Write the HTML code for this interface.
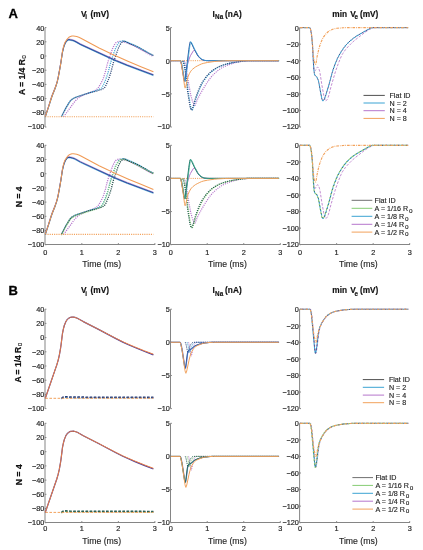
<!DOCTYPE html><html><head><meta charset="utf-8"><style>html,body{margin:0;padding:0;background:#fff;}svg{display:block;will-change:transform;}</style></head><body><svg width="423" height="550" viewBox="0 0 423 550" font-family='"Liberation Sans", sans-serif'><rect width="423" height="550" fill="#fff"/><g fill="none" stroke-linejoin="round"><g stroke="#858585" stroke-width="1" fill="none"><line x1="45.00" y1="27.60" x2="45.00" y2="127.00"/><line x1="45.00" y1="27.60" x2="46.40" y2="27.60"/><line x1="45.00" y1="41.80" x2="46.40" y2="41.80"/><line x1="45.00" y1="56.00" x2="46.40" y2="56.00"/><line x1="45.00" y1="70.20" x2="46.40" y2="70.20"/><line x1="45.00" y1="84.40" x2="46.40" y2="84.40"/><line x1="45.00" y1="98.60" x2="46.40" y2="98.60"/><line x1="45.00" y1="112.80" x2="46.40" y2="112.80"/><line x1="45.00" y1="127.00" x2="46.40" y2="127.00"/></g><g fill="#262626" stroke="#262626" stroke-width="0.18" font-size="7.3" font-family='"Liberation Sans", sans-serif'><text x="44.30" y="30.65" text-anchor="end">40</text><text x="44.30" y="44.76" text-anchor="end">20</text><text x="44.30" y="58.88" text-anchor="end">0</text><text x="44.30" y="72.99" text-anchor="end">−20</text><text x="44.30" y="87.11" text-anchor="end">−40</text><text x="44.30" y="101.22" text-anchor="end">−60</text><text x="44.30" y="115.34" text-anchor="end">−80</text><text x="44.30" y="129.45" text-anchor="end">−100</text></g><g stroke="#858585" stroke-width="1" fill="none"><line x1="170.50" y1="27.60" x2="170.50" y2="127.00"/><line x1="170.50" y1="27.60" x2="171.90" y2="27.60"/><line x1="170.50" y1="60.73" x2="171.90" y2="60.73"/><line x1="170.50" y1="93.87" x2="171.90" y2="93.87"/><line x1="170.50" y1="127.00" x2="171.90" y2="127.00"/></g><g fill="#262626" stroke="#262626" stroke-width="0.18" font-size="7.3" font-family='"Liberation Sans", sans-serif'><text x="169.80" y="30.65" text-anchor="end">5</text><text x="169.80" y="63.58" text-anchor="end">0</text><text x="169.80" y="96.52" text-anchor="end">−5</text><text x="169.80" y="129.45" text-anchor="end">−10</text></g><g stroke="#858585" stroke-width="1" fill="none"><line x1="299.60" y1="27.60" x2="299.60" y2="127.00"/><line x1="299.60" y1="27.60" x2="301.00" y2="27.60"/><line x1="299.60" y1="44.17" x2="301.00" y2="44.17"/><line x1="299.60" y1="60.73" x2="301.00" y2="60.73"/><line x1="299.60" y1="77.30" x2="301.00" y2="77.30"/><line x1="299.60" y1="93.87" x2="301.00" y2="93.87"/><line x1="299.60" y1="110.43" x2="301.00" y2="110.43"/><line x1="299.60" y1="127.00" x2="301.00" y2="127.00"/></g><g fill="#262626" stroke="#262626" stroke-width="0.18" font-size="7.3" font-family='"Liberation Sans", sans-serif'><text x="298.90" y="30.65" text-anchor="end">0</text><text x="298.90" y="47.12" text-anchor="end">−20</text><text x="298.90" y="63.58" text-anchor="end">−40</text><text x="298.90" y="80.05" text-anchor="end">−60</text><text x="298.90" y="96.52" text-anchor="end">−80</text><text x="298.90" y="112.98" text-anchor="end">−100</text><text x="298.90" y="129.45" text-anchor="end">−120</text></g><path d="M63.6 116.7L70.2 107.8L73.8 102.7L76.0 100.2L78.2 98.2L80.1 96.7L82.8 95.4L86.2 93.9L91.2 92.1L95.0 90.5L96.1 89.8L96.9 89.2L97.7 88.3L98.6 87.3L99.8 85.3L101.3 82.7L102.7 79.7L103.6 77.5L105.5 71.3L107.3 64.0L108.0 61.6L112.4 48.9L113.8 45.9L114.8 44.1L115.5 43.1L116.4 42.4L117.4 41.9L118.3 41.5L119.0 41.4L120.0 41.4L121.6 41.6L123.5 42.0L126.3 42.7L128.2 43.3L131.2 44.6L138.0 48.0L148.8 54.2L151.3 55.5L153.4 56.5" stroke="#b676cc" stroke-width="1.30" stroke-dasharray="1.1 1.1"/><path d="M61.4 116.7L65.7 108.3L69.1 102.6L70.4 100.8L72.4 99.1L74.3 97.9L77.0 96.8L84.9 94.2L94.2 91.3L98.4 89.8L100.5 88.8L101.3 88.2L101.8 87.6L102.7 86.3L103.7 84.3L105.8 79.4L106.8 76.5L108.5 71.1L110.2 64.2L110.9 61.7L115.3 48.9L116.7 45.9L117.9 43.9L118.6 42.9L120.4 41.5L121.0 41.1L121.6 40.9L123.0 41.0L126.6 41.9L129.6 43.0L132.4 44.3L138.5 47.3L149.1 53.3L153.4 55.5" stroke="#3ba3d3" stroke-width="1.30" stroke-dasharray="1.1 1.1" stroke-dashoffset="1.1"/><path d="M61.4 116.7L65.8 108.2L69.3 102.4L70.5 100.7L71.6 99.7L72.7 98.9L74.3 98.0L76.3 97.1L86.2 93.8L89.9 92.6L96.0 91.2L101.1 89.7L103.2 88.7L104.1 88.2L104.5 87.8L105.4 86.5L106.3 84.6L108.5 79.3L109.5 76.6L111.2 71.3L113.0 64.1L113.7 61.6L118.1 48.8L119.5 45.9L120.6 43.9L121.4 42.9L123.2 41.5L124.1 41.0L124.9 40.9L125.7 41.7L128.1 43.0L130.2 43.9L135.2 45.8L137.9 47.1L141.1 48.8L149.1 53.4L153.4 55.5" stroke="#2c4778" stroke-width="1.30" stroke-dasharray="1.1 1.1"/><path d="M45.3 116.7L153.4 116.7" stroke="#f2a25c" stroke-width="1.10" stroke-dasharray="1.1 1.1"/><path d="M45.3 116.1L48.6 106.0L51.5 96.9L52.4 94.4L55.0 87.9L56.4 83.9L57.3 80.8L58.2 76.8L59.7 68.7L60.9 61.8L62.4 51.9L63.7 46.5L64.6 43.9L65.5 41.9L67.0 39.9L67.6 39.4L68.1 39.1L69.1 39.0L70.7 39.3L72.4 39.6L73.9 40.1L75.9 41.1L80.3 43.6L82.4 44.6L109.6 57.2L116.3 60.2L127.2 64.6L153.4 74.5" stroke="#b676cc" stroke-width="0.70"/><path d="M45.3 117.3L48.6 107.2L51.5 98.1L52.4 95.6L55.0 89.1L56.4 85.1L57.3 82.0L58.2 78.0L59.7 69.9L60.9 63.0L62.4 53.1L63.7 47.7L64.6 45.1L65.5 43.1L67.0 41.1L67.6 40.6L68.1 40.3L69.1 40.2L70.7 40.5L72.4 40.8L73.9 41.3L75.9 42.3L80.3 44.8L82.4 45.8L109.6 58.4L116.3 61.4L127.2 65.8L153.4 75.7" stroke="#3ba3d3" stroke-width="0.70"/><path d="M45.3 116.7L48.6 106.6L51.5 97.5L52.4 95.0L55.0 88.5L56.4 84.5L57.3 81.4L58.2 77.4L59.7 69.3L60.9 62.4L62.4 52.5L63.7 47.1L64.6 44.5L65.5 42.5L67.0 40.5L67.6 40.0L68.1 39.7L69.1 39.6L70.7 39.9L72.4 40.2L73.9 40.7L75.9 41.7L80.3 44.2L82.4 45.2L109.6 57.8L116.3 60.8L127.2 65.2L153.4 75.1" stroke="#2b4f9e" stroke-width="1.05"/><path d="M45.3 116.7L48.6 106.6L51.5 97.5L52.4 95.0L55.0 88.5L56.4 84.5L57.3 81.4L58.4 76.5L60.1 67.3L61.0 61.8L62.5 51.3L63.2 47.9L63.9 45.5L64.4 43.9L65.1 42.3L65.9 41.0L66.6 39.9L67.7 38.5L68.6 37.6L69.3 37.0L70.4 36.5L72.0 36.0L73.5 36.0L76.7 36.5L78.8 37.3L80.9 38.3L99.1 48.0L105.4 51.0L112.1 54.2L120.1 57.8L127.9 61.2L141.5 66.9L153.4 71.7" stroke="#f09a55" stroke-width="1.05"/><path d="M184.2 60.7L184.6 61.4L185.1 62.7L185.8 65.5L189.0 85.7L190.1 91.5L190.9 95.6L192.2 100.0L193.3 103.2L194.1 104.8L194.5 105.3L194.8 105.4L195.1 105.2L195.4 104.7L197.0 100.5L199.4 95.6L201.7 91.4L205.9 84.4L209.4 79.2L210.8 77.4L212.2 75.8L215.6 72.5L217.5 70.9L219.3 69.5L221.1 68.3L222.7 67.3L224.8 66.4L228.1 65.0L230.9 64.0L233.8 63.1L238.9 61.9L245.1 61.0L249.0 60.7L278.8 60.7" stroke="#b676cc" stroke-width="1.20" stroke-dasharray="1.1 1.1"/><path d="M183.2 60.7L183.7 61.8L184.4 63.7L185.2 67.8L186.3 74.5L188.3 91.9L189.8 101.6L190.5 105.8L191.1 108.3L191.6 109.6L191.8 110.0L192.0 110.1L192.4 109.9L192.7 109.3L193.9 106.1L196.1 98.3L198.3 92.2L200.7 86.5L201.9 84.1L203.0 82.1L204.5 79.9L206.3 77.3L208.1 75.2L209.8 73.4L211.3 71.9L212.8 70.7L215.0 69.2L217.1 67.9L219.6 66.6L222.1 65.6L224.3 64.8L227.6 63.8L231.2 63.0L234.9 62.3L243.7 61.0L247.7 60.7L279.2 60.7" stroke="#3ba3d3" stroke-width="1.20" stroke-dasharray="1.1 1.1"/><path d="M182.6 60.7L183.1 61.8L183.8 63.7L184.6 67.8L185.7 74.5L187.7 91.9L189.2 101.6L189.9 105.8L190.5 108.3L191.0 109.6L191.2 110.0L191.4 110.1L191.8 109.9L192.1 109.3L193.3 106.1L195.5 98.3L197.7 92.2L200.1 86.5L201.3 84.1L202.4 82.1L203.9 79.9L205.7 77.3L207.5 75.2L209.2 73.4L210.7 71.9L212.2 70.7L214.4 69.2L216.5 67.9L219.0 66.6L221.5 65.6L223.7 64.8L227.0 63.8L230.6 63.0L234.3 62.3L243.1 61.0L247.1 60.7L278.6 60.7" stroke="#2c4778" stroke-width="1.20" stroke-dasharray="1.1 1.1"/><path d="M170.7 60.7L278.8 60.7" stroke="#f2a25c" stroke-width="1.00" stroke-dasharray="1.1 1.1"/><path d="M170.7 60.7L180.3 60.7L180.5 60.8L181.0 62.2L181.9 66.5L184.0 79.3L184.4 80.8L184.7 81.3L184.8 81.3L184.9 80.9L185.2 79.7L187.3 65.8L187.8 63.3L188.6 60.6L189.5 58.0L190.4 55.8L193.2 51.1L193.7 50.5L194.1 50.3L194.6 50.5L195.3 51.3L196.3 52.7L198.2 56.2L199.8 58.0L200.8 58.8L201.7 59.4L203.5 60.2L204.9 60.5L208.9 60.7L278.8 60.7" stroke="#b676cc" stroke-width="1.00"/><path d="M170.7 60.7L180.3 60.7L180.5 60.8L181.0 62.2L181.9 66.5L184.0 79.3L184.4 80.8L184.7 81.3L184.8 81.3L184.9 80.9L185.3 78.7L188.8 49.7L189.7 43.7L190.0 42.4L190.3 41.8L190.4 41.8L190.7 42.1L191.8 44.0L194.2 49.2L195.9 52.3L197.1 54.6L198.1 56.1L199.6 57.8L201.0 59.0L202.8 59.9L204.4 60.4L206.4 60.6L208.9 60.7L278.8 60.7" stroke="#2b4f9e" stroke-width="1.00"/><path d="M171.2 60.7L180.8 60.7L181.0 60.8L181.5 62.2L182.4 66.5L184.5 79.3L184.9 80.8L185.2 81.3L185.3 81.3L185.4 80.9L185.8 78.7L189.3 49.7L190.2 43.7L190.5 42.4L190.8 41.8L190.9 41.8L191.2 42.1L192.3 44.0L194.7 49.2L196.4 52.3L197.6 54.6L198.6 56.1L200.1 57.8L201.5 59.0L203.3 59.9L204.9 60.4L206.9 60.6L209.4 60.7L279.3 60.7" stroke="#3ba3d3" stroke-width="0.80"/><path d="M170.7 60.7L180.3 60.7L180.5 60.9L181.0 62.4L182.0 67.8L183.6 78.7L184.5 85.7L184.9 87.6L185.1 88.1L185.3 87.9L185.6 87.1L187.4 79.0L187.9 77.0L189.4 73.6L190.8 71.2L191.6 70.2L192.8 69.0L194.1 68.0L195.4 67.0L197.2 66.0L199.8 64.7L201.6 63.9L203.2 63.4L207.3 62.5L214.3 61.5L217.8 61.2L224.6 60.8L229.0 60.7L278.8 60.7" stroke="#f2a25c" stroke-width="1.00"/><path d="M300.1 27.6L309.7 27.6L309.9 27.7L310.2 28.2L310.7 29.9L311.3 33.0L312.0 39.2L312.4 43.8L313.5 64.2L314.0 69.0L314.3 70.5L314.5 70.9L314.7 71.1L315.0 71.0L315.3 70.6L317.1 67.5L317.5 67.0L317.8 67.0L318.1 67.3L318.9 68.9L319.6 71.1L320.1 73.5L321.8 84.5L323.7 95.2L325.0 99.8L325.4 100.6L325.5 100.9L325.7 100.9L326.3 100.6L327.2 99.5L327.7 98.7L328.1 97.5L329.0 94.8L330.9 87.1L335.5 71.4L338.5 63.0L341.0 57.0L341.9 55.0L342.8 53.5L344.2 51.5L345.6 49.5L348.8 45.9L351.1 43.6L352.9 41.9L355.5 39.7L361.0 35.4L365.0 32.3L369.3 29.6L371.7 28.4L372.9 27.9L375.0 27.6L408.2 27.6" stroke="#c48ed3" stroke-width="1.00" stroke-dasharray="2.6 1.5"/><path d="M300.1 27.6L309.7 27.6L310.0 27.8L310.3 28.5L311.3 33.0L312.1 40.2L312.5 45.2L313.7 67.6L314.0 70.7L314.3 73.3L314.6 74.6L314.9 75.1L315.3 75.6L316.3 76.4L317.1 77.5L317.8 79.0L318.4 80.7L319.0 83.5L320.3 90.8L321.7 98.0L321.9 99.0L322.4 100.1L322.6 100.5L322.9 100.7L323.2 100.7L323.5 100.4L324.4 99.0L325.4 96.4L328.9 85.0L331.8 74.0L333.1 69.6L335.1 64.1L337.3 58.8L338.7 56.0L340.1 53.6L341.8 50.8L343.6 48.1L345.1 46.1L346.7 44.3L348.6 42.3L350.6 40.5L353.9 37.9L357.5 35.5L370.2 28.3L371.3 27.9L373.1 27.6L408.2 27.6" stroke="#3ba3d3" stroke-width="1.10" stroke-dasharray="2 2"/><path d="M300.1 27.6L309.7 27.6L310.0 27.8L310.3 28.5L311.3 33.0L312.1 40.2L312.5 45.2L313.7 67.6L314.0 70.7L314.3 73.3L314.6 74.6L314.9 75.1L315.3 75.6L316.3 76.4L317.1 77.5L317.8 79.0L318.4 80.7L319.0 83.5L320.3 90.8L321.7 98.0L321.9 99.0L322.4 100.1L322.6 100.5L322.9 100.7L323.2 100.7L323.5 100.4L324.4 99.0L325.4 96.4L328.9 85.0L331.8 74.0L333.1 69.6L335.1 64.1L337.3 58.8L338.7 56.0L340.1 53.6L341.8 50.8L343.6 48.1L345.1 46.1L346.7 44.3L348.6 42.3L350.6 40.5L353.9 37.9L357.5 35.5L370.2 28.3L371.3 27.9L373.1 27.6L408.2 27.6" stroke="#34558f" stroke-width="1.00" stroke-dasharray="2 2" stroke-dashoffset="2.0"/><path d="M300.1 27.6L309.7 27.6L309.9 27.7L310.1 28.0L310.5 29.1L311.1 32.0L311.6 35.1L312.3 42.2L313.1 53.3L313.9 59.7L314.3 61.7L314.6 63.0L315.3 64.0L315.7 64.3L315.9 64.0L316.1 63.2L317.0 57.1L318.8 49.1L319.4 46.9L320.6 43.4L321.6 40.9L322.5 38.8L323.4 37.2L324.4 35.8L325.7 34.1L327.1 32.7L328.1 31.8L329.3 30.9L331.2 29.9L332.7 29.2L334.5 28.7L337.0 28.3L343.3 27.8L346.7 27.6L408.2 27.6" stroke="#f2a25c" stroke-width="1.15" stroke-dasharray="2.6 1.0 0.8 1.0"/><g stroke="#858585" stroke-width="1" fill="none"><line x1="45.00" y1="145.30" x2="45.00" y2="244.50"/><line x1="45.00" y1="145.30" x2="46.40" y2="145.30"/><line x1="45.00" y1="159.50" x2="46.40" y2="159.50"/><line x1="45.00" y1="173.70" x2="46.40" y2="173.70"/><line x1="45.00" y1="187.90" x2="46.40" y2="187.90"/><line x1="45.00" y1="202.10" x2="46.40" y2="202.10"/><line x1="45.00" y1="216.30" x2="46.40" y2="216.30"/><line x1="45.00" y1="230.50" x2="46.40" y2="230.50"/><line x1="45.00" y1="244.70" x2="46.40" y2="244.70"/><line x1="45.00" y1="244.50" x2="155.19" y2="244.50"/><line x1="81.83" y1="244.50" x2="81.83" y2="243.10"/><line x1="118.36" y1="244.50" x2="118.36" y2="243.10"/><line x1="154.89" y1="244.50" x2="154.89" y2="243.10"/></g><g fill="#262626" stroke="#262626" stroke-width="0.18" font-size="7.3" font-family='"Liberation Sans", sans-serif'><text x="44.30" y="148.35" text-anchor="end">40</text><text x="44.30" y="162.46" text-anchor="end">20</text><text x="44.30" y="176.58" text-anchor="end">0</text><text x="44.30" y="190.69" text-anchor="end">−20</text><text x="44.30" y="204.81" text-anchor="end">−40</text><text x="44.30" y="218.92" text-anchor="end">−60</text><text x="44.30" y="233.04" text-anchor="end">−80</text><text x="44.30" y="247.15" text-anchor="end">−100</text><text x="45.30" y="254.90" text-anchor="middle">0</text><text x="81.83" y="254.90" text-anchor="middle">1</text><text x="118.36" y="254.90" text-anchor="middle">2</text><text x="154.89" y="254.90" text-anchor="middle">3</text></g><g stroke="#858585" stroke-width="1" fill="none"><line x1="170.50" y1="145.30" x2="170.50" y2="244.50"/><line x1="170.50" y1="145.30" x2="171.90" y2="145.30"/><line x1="170.50" y1="178.43" x2="171.90" y2="178.43"/><line x1="170.50" y1="211.57" x2="171.90" y2="211.57"/><line x1="170.50" y1="244.70" x2="171.90" y2="244.70"/><line x1="170.50" y1="244.50" x2="280.59" y2="244.50"/><line x1="207.23" y1="244.50" x2="207.23" y2="243.10"/><line x1="243.76" y1="244.50" x2="243.76" y2="243.10"/><line x1="280.29" y1="244.50" x2="280.29" y2="243.10"/></g><g fill="#262626" stroke="#262626" stroke-width="0.18" font-size="7.3" font-family='"Liberation Sans", sans-serif'><text x="169.80" y="148.35" text-anchor="end">5</text><text x="169.80" y="181.28" text-anchor="end">0</text><text x="169.80" y="214.22" text-anchor="end">−5</text><text x="169.80" y="247.15" text-anchor="end">−10</text><text x="170.70" y="254.90" text-anchor="middle">0</text><text x="207.23" y="254.90" text-anchor="middle">1</text><text x="243.76" y="254.90" text-anchor="middle">2</text><text x="280.29" y="254.90" text-anchor="middle">3</text></g><g stroke="#858585" stroke-width="1" fill="none"><line x1="299.60" y1="145.30" x2="299.60" y2="244.50"/><line x1="299.60" y1="145.30" x2="301.00" y2="145.30"/><line x1="299.60" y1="161.87" x2="301.00" y2="161.87"/><line x1="299.60" y1="178.43" x2="301.00" y2="178.43"/><line x1="299.60" y1="195.00" x2="301.00" y2="195.00"/><line x1="299.60" y1="211.57" x2="301.00" y2="211.57"/><line x1="299.60" y1="228.13" x2="301.00" y2="228.13"/><line x1="299.60" y1="244.70" x2="301.00" y2="244.70"/><line x1="299.60" y1="244.50" x2="409.99" y2="244.50"/><line x1="336.63" y1="244.50" x2="336.63" y2="243.10"/><line x1="373.16" y1="244.50" x2="373.16" y2="243.10"/><line x1="409.69" y1="244.50" x2="409.69" y2="243.10"/></g><g fill="#262626" stroke="#262626" stroke-width="0.18" font-size="7.3" font-family='"Liberation Sans", sans-serif'><text x="298.90" y="148.35" text-anchor="end">0</text><text x="298.90" y="164.82" text-anchor="end">−20</text><text x="298.90" y="181.28" text-anchor="end">−40</text><text x="298.90" y="197.75" text-anchor="end">−60</text><text x="298.90" y="214.22" text-anchor="end">−80</text><text x="298.90" y="230.68" text-anchor="end">−100</text><text x="298.90" y="247.15" text-anchor="end">−120</text><text x="300.10" y="254.90" text-anchor="middle">0</text><text x="336.63" y="254.90" text-anchor="middle">1</text><text x="373.16" y="254.90" text-anchor="middle">2</text><text x="409.69" y="254.90" text-anchor="middle">3</text></g><path d="M63.6 234.4L70.2 225.5L73.8 220.4L76.0 217.9L78.2 215.9L80.1 214.4L82.8 213.1L86.2 211.6L91.2 209.8L95.0 208.2L96.1 207.5L96.9 206.9L97.7 206.0L98.6 205.0L99.8 203.0L101.3 200.4L102.7 197.4L103.6 195.2L105.5 189.0L107.3 181.7L108.0 179.3L112.4 166.6L113.8 163.6L114.8 161.8L115.5 160.8L116.4 160.1L117.4 159.6L118.3 159.2L119.0 159.1L120.0 159.1L121.6 159.3L123.5 159.7L126.3 160.4L128.2 161.0L131.2 162.3L138.0 165.7L148.8 171.9L151.3 173.2L153.4 174.2" stroke="#b676cc" stroke-width="1.30" stroke-dasharray="1.1 1.1"/><path d="M61.4 234.4L65.7 226.0L69.1 220.3L70.4 218.5L72.4 216.8L74.3 215.6L77.0 214.5L84.9 211.9L94.2 209.0L98.4 207.5L100.5 206.5L101.3 205.9L101.8 205.3L102.7 204.0L103.7 202.0L105.8 197.1L106.8 194.2L108.5 188.8L110.2 181.9L110.9 179.4L115.3 166.6L116.7 163.6L117.9 161.6L118.6 160.6L120.4 159.2L121.0 158.8L121.6 158.6L123.0 158.7L126.6 159.6L129.6 160.7L132.4 162.0L138.5 165.0L149.1 171.0L153.4 173.2" stroke="#3ba3d3" stroke-width="1.30" stroke-dasharray="1.1 1.1" stroke-dashoffset="1.1"/><path d="M61.4 235.1L65.7 226.7L69.1 221.0L70.4 219.2L72.4 217.5L74.3 216.3L77.0 215.2L84.9 212.6L94.2 209.7L98.4 208.2L100.5 207.2L101.3 206.6L101.8 206.0L102.7 204.7L103.7 202.7L105.8 197.8L106.8 194.9L108.5 189.5L110.2 182.6L110.9 180.1L115.3 167.3L116.7 164.3L117.9 162.3L118.6 161.3L120.4 159.9L121.0 159.5L121.6 159.3L123.0 159.4L126.6 160.3L129.6 161.4L132.4 162.7L138.5 165.7L149.1 171.7L153.4 173.9" stroke="#86cc74" stroke-width="1.30" stroke-dasharray="1.1 1.1" stroke-dashoffset="0.5"/><path d="M61.4 234.4L65.8 225.9L69.3 220.1L70.5 218.4L71.6 217.4L72.7 216.6L74.3 215.7L76.3 214.8L86.2 211.5L89.9 210.3L96.0 208.9L101.1 207.4L103.2 206.4L104.1 205.9L104.5 205.5L105.4 204.2L106.3 202.3L108.5 197.0L109.5 194.3L111.2 189.0L113.0 181.8L113.7 179.3L118.1 166.5L119.5 163.6L120.6 161.6L121.4 160.6L123.2 159.2L124.1 158.7L124.9 158.6L125.7 159.4L128.1 160.7L130.2 161.6L135.2 163.5L137.9 164.8L141.1 166.5L149.1 171.1L153.4 173.2" stroke="#1d4a45" stroke-width="1.30" stroke-dasharray="1.1 1.1"/><path d="M45.3 234.4L153.4 234.4" stroke="#f2a25c" stroke-width="1.10" stroke-dasharray="1.1 1.1"/><path d="M45.3 233.8L48.6 223.7L51.5 214.6L52.4 212.1L55.0 205.6L56.4 201.6L57.3 198.5L58.2 194.5L59.7 186.4L60.9 179.5L62.4 169.6L63.7 164.2L64.6 161.6L65.5 159.6L67.0 157.6L67.6 157.1L68.1 156.8L69.1 156.7L70.7 157.0L72.4 157.3L73.9 157.8L75.9 158.8L80.3 161.3L82.4 162.3L109.6 174.9L116.3 177.9L127.2 182.3L153.4 192.2" stroke="#b676cc" stroke-width="0.70"/><path d="M45.3 235.0L48.6 224.9L51.5 215.8L52.4 213.3L55.0 206.8L56.4 202.8L57.3 199.7L58.2 195.7L59.7 187.6L60.9 180.7L62.4 170.8L63.7 165.4L64.6 162.8L65.5 160.8L67.0 158.8L67.6 158.3L68.1 158.0L69.1 157.9L70.7 158.2L72.4 158.5L73.9 159.0L75.9 160.0L80.3 162.5L82.4 163.5L109.6 176.1L116.3 179.1L127.2 183.5L153.4 193.4" stroke="#3ba3d3" stroke-width="0.70"/><path d="M45.3 234.4L48.6 224.3L51.5 215.2L52.4 212.7L55.0 206.2L56.4 202.2L57.3 199.1L58.2 195.1L59.7 187.0L60.9 180.1L62.4 170.2L63.7 164.8L64.6 162.2L65.5 160.2L67.0 158.2L67.6 157.7L68.1 157.4L69.1 157.3L70.7 157.6L72.4 157.9L73.9 158.4L75.9 159.4L80.3 161.9L82.4 162.9L109.6 175.5L116.3 178.5L127.2 182.9L153.4 192.8" stroke="#2b4f9e" stroke-width="1.05"/><path d="M45.3 234.4L48.6 224.3L51.5 215.2L52.4 212.7L55.0 206.2L56.4 202.2L57.3 199.1L58.4 194.2L60.1 185.0L61.0 179.5L62.5 169.0L63.2 165.6L63.9 163.2L64.4 161.6L65.1 160.0L65.9 158.7L66.6 157.6L67.7 156.2L68.6 155.3L69.3 154.7L70.4 154.2L72.0 153.7L73.5 153.7L76.7 154.2L78.8 155.0L80.9 156.0L99.1 165.7L105.4 168.7L112.1 171.9L120.1 175.5L127.9 178.9L141.5 184.6L153.4 189.4" stroke="#f09a55" stroke-width="1.05"/><path d="M184.2 178.4L184.6 179.1L185.1 180.4L185.8 183.2L189.0 203.4L190.1 209.2L190.9 213.3L192.2 217.7L193.3 220.9L194.1 222.5L194.5 223.0L194.8 223.1L195.1 222.9L195.4 222.4L197.0 218.2L199.4 213.3L201.7 209.1L205.9 202.1L209.4 196.9L210.8 195.1L212.2 193.5L215.6 190.2L217.5 188.6L219.3 187.2L221.1 186.0L222.7 185.0L224.8 184.1L228.1 182.7L230.9 181.7L233.8 180.8L238.9 179.6L245.1 178.7L249.0 178.4L278.8 178.4" stroke="#b676cc" stroke-width="1.20" stroke-dasharray="1.1 1.1"/><path d="M183.2 178.4L183.7 179.5L184.4 181.4L185.2 185.5L186.3 192.2L188.3 209.6L189.8 219.3L190.5 223.5L191.1 226.0L191.6 227.3L191.8 227.7L192.0 227.8L192.4 227.6L192.7 227.0L193.9 223.8L196.1 216.0L198.3 209.9L200.7 204.2L201.9 201.8L203.0 199.8L204.5 197.6L206.3 195.0L208.1 192.9L209.8 191.1L211.3 189.6L212.8 188.4L215.0 186.9L217.1 185.6L219.6 184.3L222.1 183.3L224.3 182.5L227.6 181.5L231.2 180.7L234.9 180.0L243.7 178.7L247.7 178.4L279.2 178.4" stroke="#86cc74" stroke-width="1.20" stroke-dasharray="1.1 1.1"/><path d="M182.6 178.4L183.1 179.5L183.8 181.4L184.6 185.5L185.7 192.2L187.7 209.6L189.2 219.3L189.9 223.5L190.5 226.0L191.0 227.3L191.2 227.7L191.4 227.8L191.8 227.6L192.1 227.0L193.3 223.8L195.5 216.0L197.7 209.9L200.1 204.2L201.3 201.8L202.4 199.8L203.9 197.6L205.7 195.0L207.5 192.9L209.2 191.1L210.7 189.6L212.2 188.4L214.4 186.9L216.5 185.6L219.0 184.3L221.5 183.3L223.7 182.5L227.0 181.5L230.6 180.7L234.3 180.0L243.1 178.7L247.1 178.4L278.6 178.4" stroke="#1d5a4a" stroke-width="1.20" stroke-dasharray="1.1 1.1"/><path d="M170.7 178.4L278.8 178.4" stroke="#f2a25c" stroke-width="1.00" stroke-dasharray="1.1 1.1"/><path d="M170.7 178.4L180.3 178.4L180.5 178.5L181.0 179.9L181.9 184.2L184.0 197.0L184.4 198.5L184.7 199.0L184.8 199.0L184.9 198.6L185.2 197.4L187.3 183.5L187.8 181.0L188.6 178.3L189.5 175.7L190.4 173.5L193.2 168.8L193.7 168.2L194.1 168.0L194.6 168.2L195.3 169.0L196.3 170.4L198.2 173.9L199.8 175.7L200.8 176.5L201.7 177.1L203.5 177.9L204.9 178.2L208.9 178.4L278.8 178.4" stroke="#b676cc" stroke-width="1.00"/><path d="M170.7 178.4L180.3 178.4L180.5 178.5L181.0 179.9L181.9 184.2L184.0 197.0L184.4 198.5L184.7 199.0L184.8 199.0L184.9 198.6L185.3 196.4L188.8 167.4L189.7 161.4L190.0 160.1L190.3 159.5L190.4 159.5L190.7 159.8L191.8 161.7L194.2 166.9L195.9 170.0L197.1 172.3L198.1 173.8L199.6 175.5L201.0 176.7L202.8 177.6L204.4 178.1L206.4 178.3L208.9 178.4L278.8 178.4" stroke="#1f6f66" stroke-width="1.00"/><path d="M171.2 178.4L180.8 178.4L181.0 178.5L181.5 179.9L182.4 184.2L184.5 197.0L184.9 198.5L185.2 199.0L185.3 199.0L185.4 198.6L185.8 196.4L189.3 167.4L190.2 161.4L190.5 160.1L190.8 159.5L190.9 159.5L191.2 159.8L192.3 161.7L194.7 166.9L196.4 170.0L197.6 172.3L198.6 173.8L200.1 175.5L201.5 176.7L203.3 177.6L204.9 178.1L206.9 178.3L209.4 178.4L279.3 178.4" stroke="#38a88c" stroke-width="0.80"/><path d="M170.7 178.4L180.3 178.4L180.5 178.6L181.0 180.1L182.0 185.5L183.6 196.4L184.5 203.4L184.9 205.3L185.1 205.8L185.3 205.6L185.6 204.8L187.4 196.7L187.9 194.7L189.4 191.3L190.8 188.9L191.6 187.9L192.8 186.7L194.1 185.7L195.4 184.7L197.2 183.7L199.8 182.4L201.6 181.6L203.2 181.1L207.3 180.2L214.3 179.2L217.8 178.9L224.6 178.5L229.0 178.4L278.8 178.4" stroke="#f2a25c" stroke-width="1.00"/><path d="M300.1 145.3L309.7 145.3L309.9 145.4L310.2 145.9L310.7 147.6L311.3 150.7L312.0 156.9L312.4 161.5L313.5 181.9L314.0 186.7L314.3 188.2L314.5 188.6L314.7 188.8L315.0 188.7L315.3 188.3L317.1 185.2L317.5 184.7L317.8 184.7L318.1 185.0L318.9 186.6L319.6 188.8L320.1 191.2L321.8 202.2L323.7 212.9L325.0 217.5L325.4 218.3L325.5 218.6L325.7 218.6L326.3 218.3L327.2 217.2L327.7 216.4L328.1 215.2L329.0 212.5L330.9 204.8L335.5 189.1L338.5 180.7L341.0 174.7L341.9 172.7L342.8 171.2L344.2 169.2L345.6 167.2L348.8 163.6L351.1 161.3L352.9 159.6L355.5 157.4L361.0 153.1L365.0 150.0L369.3 147.3L371.7 146.1L372.9 145.6L375.0 145.3L408.2 145.3" stroke="#c48ed3" stroke-width="1.00" stroke-dasharray="2.6 1.5"/><path d="M300.1 145.3L309.7 145.3L310.0 145.5L310.3 146.2L311.3 150.7L312.1 157.9L312.5 162.9L313.7 185.3L314.0 188.4L314.3 191.0L314.6 192.3L314.9 192.8L315.3 193.3L316.3 194.1L317.1 195.2L317.8 196.7L318.4 198.4L319.0 201.2L320.3 208.5L321.7 215.7L321.9 216.7L322.4 217.8L322.6 218.2L322.9 218.4L323.2 218.4L323.5 218.1L324.4 216.7L325.4 214.1L328.9 202.7L331.8 191.7L333.1 187.3L335.1 181.8L337.3 176.5L338.7 173.7L340.1 171.3L341.8 168.5L343.6 165.8L345.1 163.8L346.7 162.0L348.6 160.0L350.6 158.2L353.9 155.6L357.5 153.2L370.2 146.0L371.3 145.6L373.1 145.3L408.2 145.3" stroke="#3ba3d3" stroke-width="1.10" stroke-dasharray="2 2"/><path d="M299.9 145.3L309.5 145.3L309.8 145.5L310.1 146.2L311.1 150.7L311.9 157.9L312.3 162.9L313.5 185.3L313.8 188.4L314.1 191.0L314.4 192.3L314.7 192.8L315.1 193.3L316.1 194.1L316.9 195.2L317.6 196.7L318.2 198.4L318.8 201.2L320.1 208.5L321.5 215.7L321.7 216.7L322.2 217.8L322.4 218.2L322.7 218.4L323.0 218.4L323.3 218.1L324.2 216.7L325.2 214.1L328.7 202.7L331.6 191.7L332.9 187.3L334.9 181.8L337.1 176.5L338.5 173.7L339.9 171.3L341.6 168.5L343.4 165.8L344.9 163.8L346.5 162.0L348.4 160.0L350.4 158.2L353.7 155.6L357.3 153.2L370.0 146.0L371.1 145.6L372.9 145.3L408.0 145.3" stroke="#86cc74" stroke-width="1.10" stroke-dasharray="2 2" stroke-dashoffset="2.0"/><path d="M300.1 145.3L309.7 145.3L310.0 145.5L310.3 146.2L311.3 150.7L312.1 157.9L312.5 162.9L313.7 185.3L314.0 188.4L314.3 191.0L314.6 192.3L314.9 192.8L315.3 193.3L316.3 194.1L317.1 195.2L317.8 196.7L318.4 198.4L319.0 201.2L320.3 208.5L321.7 215.7L321.9 216.7L322.4 217.8L322.6 218.2L322.9 218.4L323.2 218.4L323.5 218.1L324.4 216.7L325.4 214.1L328.9 202.7L331.8 191.7L333.1 187.3L335.1 181.8L337.3 176.5L338.7 173.7L340.1 171.3L341.8 168.5L343.6 165.8L345.1 163.8L346.7 162.0L348.6 160.0L350.6 158.2L353.9 155.6L357.5 153.2L370.2 146.0L371.3 145.6L373.1 145.3L408.2 145.3" stroke="#2b4a44" stroke-width="0.80" stroke-dasharray="1 3" stroke-dashoffset="0.5"/><path d="M300.1 145.3L309.7 145.3L309.9 145.4L310.1 145.7L310.5 146.8L311.1 149.7L311.6 152.8L312.3 159.9L313.1 171.0L313.9 177.4L314.3 179.4L314.6 180.7L315.3 181.7L315.7 182.0L315.9 181.7L316.1 180.9L317.0 174.8L318.8 166.8L319.4 164.6L320.6 161.1L321.6 158.6L322.5 156.5L323.4 154.9L324.4 153.5L325.7 151.8L327.1 150.4L328.1 149.5L329.3 148.6L331.2 147.6L332.7 146.9L334.5 146.4L337.0 146.0L343.3 145.5L346.7 145.3L408.2 145.3" stroke="#f2a25c" stroke-width="1.15" stroke-dasharray="2.6 1.0 0.8 1.0"/><g stroke="#858585" stroke-width="1" fill="none"><line x1="45.00" y1="309.20" x2="45.00" y2="408.60"/><line x1="45.00" y1="309.20" x2="46.40" y2="309.20"/><line x1="45.00" y1="323.40" x2="46.40" y2="323.40"/><line x1="45.00" y1="337.60" x2="46.40" y2="337.60"/><line x1="45.00" y1="351.80" x2="46.40" y2="351.80"/><line x1="45.00" y1="366.00" x2="46.40" y2="366.00"/><line x1="45.00" y1="380.20" x2="46.40" y2="380.20"/><line x1="45.00" y1="394.40" x2="46.40" y2="394.40"/><line x1="45.00" y1="408.60" x2="46.40" y2="408.60"/></g><g fill="#262626" stroke="#262626" stroke-width="0.18" font-size="7.3" font-family='"Liberation Sans", sans-serif'><text x="44.30" y="312.25" text-anchor="end">40</text><text x="44.30" y="326.36" text-anchor="end">20</text><text x="44.30" y="340.48" text-anchor="end">0</text><text x="44.30" y="354.59" text-anchor="end">−20</text><text x="44.30" y="368.71" text-anchor="end">−40</text><text x="44.30" y="382.82" text-anchor="end">−60</text><text x="44.30" y="396.94" text-anchor="end">−80</text><text x="44.30" y="411.05" text-anchor="end">−100</text></g><g stroke="#858585" stroke-width="1" fill="none"><line x1="170.50" y1="309.20" x2="170.50" y2="408.60"/><line x1="170.50" y1="309.20" x2="171.90" y2="309.20"/><line x1="170.50" y1="342.33" x2="171.90" y2="342.33"/><line x1="170.50" y1="375.47" x2="171.90" y2="375.47"/><line x1="170.50" y1="408.60" x2="171.90" y2="408.60"/></g><g fill="#262626" stroke="#262626" stroke-width="0.18" font-size="7.3" font-family='"Liberation Sans", sans-serif'><text x="169.80" y="312.25" text-anchor="end">5</text><text x="169.80" y="345.18" text-anchor="end">0</text><text x="169.80" y="378.12" text-anchor="end">−5</text><text x="169.80" y="411.05" text-anchor="end">−10</text></g><g stroke="#858585" stroke-width="1" fill="none"><line x1="299.60" y1="309.20" x2="299.60" y2="408.60"/><line x1="299.60" y1="309.20" x2="301.00" y2="309.20"/><line x1="299.60" y1="325.77" x2="301.00" y2="325.77"/><line x1="299.60" y1="342.33" x2="301.00" y2="342.33"/><line x1="299.60" y1="358.90" x2="301.00" y2="358.90"/><line x1="299.60" y1="375.47" x2="301.00" y2="375.47"/><line x1="299.60" y1="392.03" x2="301.00" y2="392.03"/><line x1="299.60" y1="408.60" x2="301.00" y2="408.60"/></g><g fill="#262626" stroke="#262626" stroke-width="0.18" font-size="7.3" font-family='"Liberation Sans", sans-serif'><text x="298.90" y="312.25" text-anchor="end">0</text><text x="298.90" y="328.72" text-anchor="end">−20</text><text x="298.90" y="345.18" text-anchor="end">−40</text><text x="298.90" y="361.65" text-anchor="end">−60</text><text x="298.90" y="378.12" text-anchor="end">−80</text><text x="298.90" y="394.58" text-anchor="end">−100</text><text x="298.90" y="411.05" text-anchor="end">−120</text></g><path d="M61.4 398.6L62.5 398.1L63.4 397.3L63.9 397.1L69.7 397.5L74.3 397.6L153.4 397.8" stroke="#b676cc" stroke-width="1.20" stroke-dasharray="2.6 1.5"/><path d="M61.4 398.8L62.5 398.3L63.4 397.5L63.9 397.3L69.7 397.7L74.3 397.8L153.4 398.0" stroke="#3ba3d3" stroke-width="1.20" stroke-dasharray="2.6 1.5"/><path d="M61.4 398.1L62.5 397.6L63.4 396.8L63.9 396.6L69.7 397.0L74.3 397.1L153.4 397.3" stroke="#243c78" stroke-width="1.50" stroke-dasharray="2.6 1.5"/><path d="M45.3 398.3L153.4 398.3" stroke="#f2a25c" stroke-width="1.00" stroke-dasharray="2.6 1.5"/><path d="M45.3 398.3L56.8 364.9L58.2 360.1L59.3 355.3L60.5 348.6L61.1 344.5L62.5 333.3L63.4 328.9L64.3 325.5L65.5 322.5L66.2 321.0L66.9 320.0L67.4 319.4L68.3 318.6L69.2 318.0L70.0 317.5L70.7 317.3L71.7 317.2L73.5 317.1L75.0 317.4L77.3 318.2L83.3 321.6L98.5 329.4L115.9 338.6L122.8 342.1L128.4 344.7L134.9 347.5L144.7 351.5L153.4 354.9" stroke="#4a3f9a" stroke-width="1.20"/><path d="M45.3 398.3L56.8 364.9L58.2 360.1L59.3 355.3L60.5 348.6L61.1 344.5L62.5 333.3L63.4 328.9L64.3 325.5L65.5 322.5L66.2 321.0L66.9 320.0L67.4 319.4L68.3 318.6L69.2 318.0L70.0 317.5L70.6 317.3L71.6 317.2L73.4 317.1L74.9 317.4L77.2 318.2L78.6 318.9L81.6 320.7L84.3 322.1L98.5 329.3L115.2 338.0L122.5 341.6L128.1 344.1L134.7 346.9L144.6 350.9L153.4 354.2" stroke="#ea7d45" stroke-width="1.00"/><path d="M188.6 342.3L189.1 344.4L189.7 347.0L190.9 355.1L191.0 355.9L191.2 356.2L191.4 355.9L191.6 355.1L193.2 347.8L194.0 345.3L194.5 344.2L194.8 343.7L195.7 342.7L196.5 342.3L278.8 342.3" stroke="#b676cc" stroke-width="1.00" stroke-dasharray="1.1 1.1"/><path d="M187.1 342.3L188.1 345.6L189.4 352.2L189.6 352.8L189.7 352.9L190.1 352.2L191.7 346.5L192.5 344.7L193.0 343.9L193.3 343.4L194.3 342.6L195.0 342.3L278.8 342.3" stroke="#3ba3d3" stroke-width="1.00" stroke-dasharray="1.1 1.1"/><path d="M185.3 342.3L185.9 343.9L186.4 346.0L187.6 352.1L187.7 352.7L187.9 352.9L188.0 352.8L188.3 352.2L189.9 346.4L190.7 344.6L191.2 343.8L191.6 343.4L192.5 342.6L193.2 342.3L278.8 342.3" stroke="#243c78" stroke-width="1.00" stroke-dasharray="1.1 1.1"/><path d="M171.1 342.3L180.4 342.3L180.7 342.5L181.2 344.2L182.3 349.4L184.8 365.6L185.3 367.8L185.6 368.3L185.8 367.8L186.3 365.1L187.7 353.9L188.1 352.2L188.8 350.8L189.1 350.3L189.6 350.0L191.3 349.1L191.9 348.7L194.1 346.8L195.0 346.1L197.3 345.0L199.8 344.1L202.9 343.4L205.8 342.9L209.4 342.5L212.4 342.3L279.2 342.3" stroke="#b676cc" stroke-width="0.80"/><path d="M170.9 342.3L180.2 342.3L180.5 342.5L181.0 344.2L182.1 349.4L184.6 365.6L185.1 367.8L185.4 368.3L185.6 367.8L186.1 365.1L187.5 353.9L187.9 352.2L188.6 350.8L188.9 350.3L189.4 350.0L191.1 349.1L191.7 348.7L193.9 346.8L194.8 346.1L197.1 345.0L199.6 344.1L202.7 343.4L205.6 342.9L209.2 342.5L212.2 342.3L279.0 342.3" stroke="#3ba3d3" stroke-width="0.80"/><path d="M170.7 342.3L180.0 342.3L180.3 342.5L180.8 344.2L181.9 349.4L184.4 365.6L184.9 367.8L185.2 368.3L185.4 367.8L185.9 365.1L187.3 353.9L187.7 352.2L188.4 350.8L188.7 350.3L189.2 350.0L190.9 349.1L191.5 348.7L193.7 346.8L194.6 346.1L196.9 345.0L199.4 344.1L202.5 343.4L205.4 342.9L209.0 342.5L212.0 342.3L278.8 342.3" stroke="#2b4f9e" stroke-width="0.90"/><path d="M170.7 342.3L180.0 342.3L180.2 342.4L180.3 342.7L180.9 344.6L182.2 350.9L185.0 370.6L185.6 372.8L185.8 373.2L185.9 373.3L186.3 372.6L187.0 369.8L189.0 360.3L190.0 356.3L190.9 353.5L192.1 351.1L192.9 349.7L193.7 348.5L194.5 347.6L195.4 346.8L196.6 346.1L197.8 345.4L201.8 343.8L203.6 343.3L207.1 342.7L209.0 342.5L213.4 342.3L278.8 342.3" stroke="#f2a25c" stroke-width="1.00"/><path d="M300.5 309.2L310.5 309.2L310.8 309.6L311.5 312.7L312.0 316.0L315.0 348.7L315.5 352.3L315.7 353.1L315.8 353.4L316.0 353.2L316.3 352.2L317.2 346.6L318.6 334.7L319.2 331.0L319.7 328.8L320.6 326.1L321.6 324.0L323.1 321.3L324.8 318.8L326.2 316.9L327.3 315.8L328.3 315.0L330.2 313.7L332.1 312.7L333.6 312.1L335.2 311.5L340.2 310.5L344.8 309.8L352.3 309.3L355.2 309.2L408.6 309.2" stroke="#c48ed3" stroke-width="1.00" stroke-dasharray="2.6 1.5"/><path d="M300.1 309.2L310.1 309.2L310.4 309.6L311.1 312.7L311.6 316.0L314.6 348.7L315.1 352.3L315.3 353.1L315.4 353.4L315.6 353.2L315.9 352.2L316.8 346.6L318.2 334.7L318.8 331.0L319.3 328.8L320.2 326.1L321.2 324.0L322.7 321.3L324.4 318.8L325.8 316.9L326.9 315.8L327.9 315.0L329.8 313.7L331.7 312.7L333.2 312.1L334.8 311.5L339.8 310.5L344.4 309.8L351.9 309.3L354.8 309.2L408.2 309.2" stroke="#3ba3d3" stroke-width="1.10" stroke-dasharray="2 2"/><path d="M300.1 309.2L310.1 309.2L310.4 309.6L311.1 312.7L311.6 316.0L314.6 348.7L315.1 352.3L315.3 353.1L315.4 353.4L315.6 353.2L315.9 352.2L316.8 346.6L318.2 334.7L318.8 331.0L319.3 328.8L320.2 326.1L321.2 324.0L322.7 321.3L324.4 318.8L325.8 316.9L326.9 315.8L327.9 315.0L329.8 313.7L331.7 312.7L333.2 312.1L334.8 311.5L339.8 310.5L344.4 309.8L351.9 309.3L354.8 309.2L408.2 309.2" stroke="#34558f" stroke-width="1.00" stroke-dasharray="2 2" stroke-dashoffset="2.0"/><path d="M300.1 309.2L310.1 309.2L310.3 309.4L310.7 311.0L311.4 314.4L313.4 331.6L314.1 336.0L315.2 340.5L315.6 341.7L316.0 342.2L316.2 342.1L316.3 341.5L317.2 336.7L318.9 329.9L320.6 325.6L321.4 323.8L322.3 322.1L324.8 318.2L326.0 316.7L327.1 315.6L328.4 314.6L330.2 313.5L331.8 312.6L333.6 311.9L335.0 311.5L337.2 311.0L341.6 310.2L347.1 309.6L352.6 309.2L408.2 309.2" stroke="#f2a25c" stroke-width="1.15" stroke-dasharray="2.6 1.0 0.8 1.0"/><g stroke="#858585" stroke-width="1" fill="none"><line x1="45.00" y1="423.30" x2="45.00" y2="522.50"/><line x1="45.00" y1="423.30" x2="46.40" y2="423.30"/><line x1="45.00" y1="437.50" x2="46.40" y2="437.50"/><line x1="45.00" y1="451.70" x2="46.40" y2="451.70"/><line x1="45.00" y1="465.90" x2="46.40" y2="465.90"/><line x1="45.00" y1="480.10" x2="46.40" y2="480.10"/><line x1="45.00" y1="494.30" x2="46.40" y2="494.30"/><line x1="45.00" y1="508.50" x2="46.40" y2="508.50"/><line x1="45.00" y1="522.70" x2="46.40" y2="522.70"/><line x1="45.00" y1="522.50" x2="155.19" y2="522.50"/><line x1="81.83" y1="522.50" x2="81.83" y2="521.10"/><line x1="118.36" y1="522.50" x2="118.36" y2="521.10"/><line x1="154.89" y1="522.50" x2="154.89" y2="521.10"/></g><g fill="#262626" stroke="#262626" stroke-width="0.18" font-size="7.3" font-family='"Liberation Sans", sans-serif'><text x="44.30" y="426.35" text-anchor="end">40</text><text x="44.30" y="440.46" text-anchor="end">20</text><text x="44.30" y="454.58" text-anchor="end">0</text><text x="44.30" y="468.69" text-anchor="end">−20</text><text x="44.30" y="482.81" text-anchor="end">−40</text><text x="44.30" y="496.92" text-anchor="end">−60</text><text x="44.30" y="511.04" text-anchor="end">−80</text><text x="44.30" y="525.15" text-anchor="end">−100</text><text x="45.30" y="531.10" text-anchor="middle">0</text><text x="81.83" y="531.10" text-anchor="middle">1</text><text x="118.36" y="531.10" text-anchor="middle">2</text><text x="154.89" y="531.10" text-anchor="middle">3</text></g><g stroke="#858585" stroke-width="1" fill="none"><line x1="170.50" y1="423.30" x2="170.50" y2="522.50"/><line x1="170.50" y1="423.30" x2="171.90" y2="423.30"/><line x1="170.50" y1="456.43" x2="171.90" y2="456.43"/><line x1="170.50" y1="489.57" x2="171.90" y2="489.57"/><line x1="170.50" y1="522.70" x2="171.90" y2="522.70"/><line x1="170.50" y1="522.50" x2="280.59" y2="522.50"/><line x1="207.23" y1="522.50" x2="207.23" y2="521.10"/><line x1="243.76" y1="522.50" x2="243.76" y2="521.10"/><line x1="280.29" y1="522.50" x2="280.29" y2="521.10"/></g><g fill="#262626" stroke="#262626" stroke-width="0.18" font-size="7.3" font-family='"Liberation Sans", sans-serif'><text x="169.80" y="426.35" text-anchor="end">5</text><text x="169.80" y="459.28" text-anchor="end">0</text><text x="169.80" y="492.22" text-anchor="end">−5</text><text x="169.80" y="525.15" text-anchor="end">−10</text><text x="170.70" y="531.10" text-anchor="middle">0</text><text x="207.23" y="531.10" text-anchor="middle">1</text><text x="243.76" y="531.10" text-anchor="middle">2</text><text x="280.29" y="531.10" text-anchor="middle">3</text></g><g stroke="#858585" stroke-width="1" fill="none"><line x1="299.60" y1="423.30" x2="299.60" y2="522.50"/><line x1="299.60" y1="423.30" x2="301.00" y2="423.30"/><line x1="299.60" y1="439.87" x2="301.00" y2="439.87"/><line x1="299.60" y1="456.43" x2="301.00" y2="456.43"/><line x1="299.60" y1="473.00" x2="301.00" y2="473.00"/><line x1="299.60" y1="489.57" x2="301.00" y2="489.57"/><line x1="299.60" y1="506.13" x2="301.00" y2="506.13"/><line x1="299.60" y1="522.70" x2="301.00" y2="522.70"/><line x1="299.60" y1="522.50" x2="409.99" y2="522.50"/><line x1="336.63" y1="522.50" x2="336.63" y2="521.10"/><line x1="373.16" y1="522.50" x2="373.16" y2="521.10"/><line x1="409.69" y1="522.50" x2="409.69" y2="521.10"/></g><g fill="#262626" stroke="#262626" stroke-width="0.18" font-size="7.3" font-family='"Liberation Sans", sans-serif'><text x="298.90" y="426.35" text-anchor="end">0</text><text x="298.90" y="442.82" text-anchor="end">−20</text><text x="298.90" y="459.28" text-anchor="end">−40</text><text x="298.90" y="475.75" text-anchor="end">−60</text><text x="298.90" y="492.22" text-anchor="end">−80</text><text x="298.90" y="508.68" text-anchor="end">−100</text><text x="298.90" y="525.15" text-anchor="end">−120</text><text x="300.10" y="531.10" text-anchor="middle">0</text><text x="336.63" y="531.10" text-anchor="middle">1</text><text x="373.16" y="531.10" text-anchor="middle">2</text><text x="409.69" y="531.10" text-anchor="middle">3</text></g><path d="M61.4 512.7L62.5 512.2L63.4 511.4L63.9 511.2L69.7 511.6L74.3 511.7L153.4 511.9" stroke="#b676cc" stroke-width="1.20" stroke-dasharray="2.6 1.5"/><path d="M61.4 512.9L62.5 512.4L63.4 511.6L63.9 511.4L69.7 511.8L74.3 511.9L153.4 512.1" stroke="#86cc74" stroke-width="1.20" stroke-dasharray="2.6 1.5"/><path d="M61.4 512.2L62.5 511.7L63.4 510.9L63.9 510.7L69.7 511.1L74.3 511.2L153.4 511.4" stroke="#1d5a4f" stroke-width="1.50" stroke-dasharray="2.6 1.5"/><path d="M45.3 512.4L153.4 512.4" stroke="#f2a25c" stroke-width="1.00" stroke-dasharray="2.6 1.5"/><path d="M45.3 512.4L56.8 479.0L58.2 474.2L59.3 469.4L60.5 462.7L61.1 458.6L62.5 447.4L63.4 443.0L64.3 439.6L65.5 436.6L66.2 435.1L66.9 434.1L67.4 433.5L68.3 432.7L69.2 432.1L70.0 431.6L70.7 431.4L71.7 431.3L73.5 431.2L75.0 431.5L77.3 432.3L83.3 435.7L98.5 443.5L115.9 452.7L122.8 456.2L128.4 458.8L134.9 461.6L144.7 465.6L153.4 469.0" stroke="#4a3f9a" stroke-width="1.20"/><path d="M45.3 512.4L56.8 479.0L58.2 474.2L59.3 469.4L60.5 462.7L61.1 458.6L62.5 447.4L63.4 443.0L64.3 439.6L65.5 436.6L66.2 435.1L66.9 434.1L67.4 433.5L68.3 432.7L69.2 432.1L70.0 431.6L70.6 431.4L71.6 431.3L73.4 431.2L74.9 431.5L77.2 432.3L78.6 433.0L81.6 434.8L84.3 436.2L98.5 443.4L115.2 452.1L122.5 455.7L128.1 458.2L134.7 461.0L144.6 465.0L153.4 468.3" stroke="#ea7d45" stroke-width="1.00"/><path d="M188.6 456.4L189.1 458.5L189.7 461.1L190.9 469.2L191.0 470.0L191.2 470.3L191.4 470.0L191.6 469.2L193.2 461.9L194.0 459.4L194.5 458.3L194.8 457.8L195.7 456.8L196.5 456.4L278.8 456.4" stroke="#b676cc" stroke-width="1.00" stroke-dasharray="1.1 1.1"/><path d="M187.1 456.4L188.1 459.7L189.4 466.3L189.6 466.9L189.7 467.0L190.1 466.3L191.7 460.6L192.5 458.8L193.0 458.0L193.3 457.5L194.3 456.7L195.0 456.4L278.8 456.4" stroke="#86cc74" stroke-width="1.00" stroke-dasharray="1.1 1.1"/><path d="M185.3 456.4L185.9 458.0L186.4 460.1L187.6 466.2L187.7 466.8L187.9 467.0L188.0 466.9L188.3 466.3L189.9 460.5L190.7 458.7L191.2 457.9L191.6 457.5L192.5 456.7L193.2 456.4L278.8 456.4" stroke="#1d5a4f" stroke-width="1.00" stroke-dasharray="1.1 1.1"/><path d="M171.1 456.4L180.4 456.4L180.7 456.6L181.2 458.3L182.3 463.5L184.8 479.7L185.3 481.9L185.6 482.4L185.8 481.9L186.3 479.2L187.7 468.0L188.1 466.3L188.8 464.9L189.1 464.4L189.6 464.1L191.3 463.2L191.9 462.8L194.1 460.9L195.0 460.2L197.3 459.1L199.8 458.2L202.9 457.5L205.8 457.0L209.4 456.6L212.4 456.4L279.2 456.4" stroke="#b676cc" stroke-width="0.80"/><path d="M170.9 456.4L180.2 456.4L180.5 456.6L181.0 458.3L182.1 463.5L184.6 479.7L185.1 481.9L185.4 482.4L185.6 481.9L186.1 479.2L187.5 468.0L187.9 466.3L188.6 464.9L188.9 464.4L189.4 464.1L191.1 463.2L191.7 462.8L193.9 460.9L194.8 460.2L197.1 459.1L199.6 458.2L202.7 457.5L205.6 457.0L209.2 456.6L212.2 456.4L279.0 456.4" stroke="#2f9c86" stroke-width="0.80"/><path d="M170.7 456.4L180.0 456.4L180.3 456.6L180.8 458.3L181.9 463.5L184.4 479.7L184.9 481.9L185.2 482.4L185.4 481.9L185.9 479.2L187.3 468.0L187.7 466.3L188.4 464.9L188.7 464.4L189.2 464.1L190.9 463.2L191.5 462.8L193.7 460.9L194.6 460.2L196.9 459.1L199.4 458.2L202.5 457.5L205.4 457.0L209.0 456.6L212.0 456.4L278.8 456.4" stroke="#1f5f66" stroke-width="0.90"/><path d="M170.7 456.4L180.0 456.4L180.2 456.5L180.3 456.8L180.9 458.7L182.2 465.0L185.0 484.7L185.6 486.9L185.8 487.3L185.9 487.4L186.3 486.7L187.0 483.9L189.0 474.4L190.0 470.4L190.9 467.6L192.1 465.2L192.9 463.8L193.7 462.6L194.5 461.7L195.4 460.9L196.6 460.2L197.8 459.5L201.8 457.9L203.6 457.4L207.1 456.8L209.0 456.6L213.4 456.4L278.8 456.4" stroke="#f2a25c" stroke-width="1.00"/><path d="M300.5 423.3L310.5 423.3L310.8 423.7L311.5 426.8L312.0 430.1L315.0 462.8L315.5 466.4L315.7 467.2L315.8 467.5L316.0 467.3L316.3 466.3L317.2 460.7L318.6 448.8L319.2 445.1L319.7 442.9L320.6 440.2L321.6 438.1L323.1 435.4L324.8 432.9L326.2 431.0L327.3 429.9L328.3 429.1L330.2 427.8L332.1 426.8L333.6 426.2L335.2 425.6L340.2 424.6L344.8 423.9L352.3 423.4L355.2 423.3L408.6 423.3" stroke="#c48ed3" stroke-width="1.00" stroke-dasharray="2.6 1.5"/><path d="M300.1 423.3L310.1 423.3L310.4 423.7L311.1 426.8L311.6 430.1L314.6 462.8L315.1 466.4L315.3 467.2L315.4 467.5L315.6 467.3L315.9 466.3L316.8 460.7L318.2 448.8L318.8 445.1L319.3 442.9L320.2 440.2L321.2 438.1L322.7 435.4L324.4 432.9L325.8 431.0L326.9 429.9L327.9 429.1L329.8 427.8L331.7 426.8L333.2 426.2L334.8 425.6L339.8 424.6L344.4 423.9L351.9 423.4L354.8 423.3L408.2 423.3" stroke="#3ba3d3" stroke-width="1.10" stroke-dasharray="2 2"/><path d="M299.9 423.3L309.9 423.3L310.2 423.7L310.9 426.8L311.4 430.1L314.4 462.8L314.9 466.4L315.1 467.2L315.2 467.5L315.4 467.3L315.7 466.3L316.6 460.7L318.0 448.8L318.6 445.1L319.1 442.9L320.0 440.2L321.0 438.1L322.5 435.4L324.2 432.9L325.6 431.0L326.7 429.9L327.7 429.1L329.6 427.8L331.5 426.8L333.0 426.2L334.6 425.6L339.6 424.6L344.2 423.9L351.7 423.4L354.6 423.3L408.0 423.3" stroke="#86cc74" stroke-width="1.10" stroke-dasharray="2 2" stroke-dashoffset="2.0"/><path d="M300.1 423.3L310.1 423.3L310.4 423.7L311.1 426.8L311.6 430.1L314.6 462.8L315.1 466.4L315.3 467.2L315.4 467.5L315.6 467.3L315.9 466.3L316.8 460.7L318.2 448.8L318.8 445.1L319.3 442.9L320.2 440.2L321.2 438.1L322.7 435.4L324.4 432.9L325.8 431.0L326.9 429.9L327.9 429.1L329.8 427.8L331.7 426.8L333.2 426.2L334.8 425.6L339.8 424.6L344.4 423.9L351.9 423.4L354.8 423.3L408.2 423.3" stroke="#2b4a44" stroke-width="0.80" stroke-dasharray="1 3" stroke-dashoffset="0.5"/><path d="M300.1 423.3L310.1 423.3L310.3 423.5L310.7 425.1L311.4 428.5L313.4 445.7L314.1 450.1L315.2 454.6L315.6 455.8L316.0 456.3L316.2 456.2L316.3 455.6L317.2 450.8L318.9 444.0L320.6 439.7L321.4 437.9L322.3 436.2L324.8 432.3L326.0 430.8L327.1 429.7L328.4 428.7L330.2 427.6L331.8 426.7L333.6 426.0L335.0 425.6L337.2 425.1L341.6 424.3L347.1 423.7L352.6 423.3L408.2 423.3" stroke="#f2a25c" stroke-width="1.15" stroke-dasharray="2.6 1.0 0.8 1.0"/></g><text x="8.60" y="18.40" font-size="13.00" font-weight="bold" text-anchor="start" fill="#000" stroke="#000" stroke-width="0.30">A</text><text x="81.00" y="16.60" font-size="8.30" font-weight="bold" text-anchor="start" fill="#111" stroke="#111" stroke-width="0.15">V</text><text x="85.20" y="18.70" font-size="6.30" font-weight="bold" text-anchor="start" fill="#111" stroke="#111" stroke-width="0.15">i</text><text x="90.50" y="16.60" font-size="8.30" font-weight="bold" text-anchor="start" fill="#111" stroke="#111" stroke-width="0.15">(mV)</text><text x="212.50" y="16.60" font-size="8.30" font-weight="bold" text-anchor="start" fill="#111" stroke="#111" stroke-width="0.15">I</text><text x="215.10" y="18.70" font-size="6.30" font-weight="bold" text-anchor="start" fill="#111" stroke="#111" stroke-width="0.15">Na</text><text x="225.10" y="16.60" font-size="8.30" font-weight="bold" text-anchor="start" fill="#111" stroke="#111" stroke-width="0.15">(nA)</text><text x="332.30" y="16.60" font-size="8.30" font-weight="bold" text-anchor="start" fill="#111" stroke="#111" stroke-width="0.15">min</text><text x="350.30" y="16.60" font-size="8.30" font-weight="bold" text-anchor="start" fill="#111" stroke="#111" stroke-width="0.15">V</text><text x="354.50" y="18.70" font-size="6.30" font-weight="bold" text-anchor="start" fill="#111" stroke="#111" stroke-width="0.15">e</text><text x="359.90" y="16.60" font-size="8.30" font-weight="bold" text-anchor="start" fill="#111" stroke="#111" stroke-width="0.15">(mV)</text><text x="8.60" y="295.00" font-size="13.00" font-weight="bold" text-anchor="start" fill="#000" stroke="#000" stroke-width="0.30">B</text><text x="81.00" y="293.40" font-size="8.30" font-weight="bold" text-anchor="start" fill="#111" stroke="#111" stroke-width="0.15">V</text><text x="85.20" y="295.50" font-size="6.30" font-weight="bold" text-anchor="start" fill="#111" stroke="#111" stroke-width="0.15">i</text><text x="90.50" y="293.40" font-size="8.30" font-weight="bold" text-anchor="start" fill="#111" stroke="#111" stroke-width="0.15">(mV)</text><text x="212.50" y="293.40" font-size="8.30" font-weight="bold" text-anchor="start" fill="#111" stroke="#111" stroke-width="0.15">I</text><text x="215.10" y="295.50" font-size="6.30" font-weight="bold" text-anchor="start" fill="#111" stroke="#111" stroke-width="0.15">Na</text><text x="225.10" y="293.40" font-size="8.30" font-weight="bold" text-anchor="start" fill="#111" stroke="#111" stroke-width="0.15">(nA)</text><text x="332.30" y="293.40" font-size="8.30" font-weight="bold" text-anchor="start" fill="#111" stroke="#111" stroke-width="0.15">min</text><text x="350.30" y="293.40" font-size="8.30" font-weight="bold" text-anchor="start" fill="#111" stroke="#111" stroke-width="0.15">V</text><text x="354.50" y="295.50" font-size="6.30" font-weight="bold" text-anchor="start" fill="#111" stroke="#111" stroke-width="0.15">e</text><text x="359.90" y="293.40" font-size="8.30" font-weight="bold" text-anchor="start" fill="#111" stroke="#111" stroke-width="0.15">(mV)</text><text x="0.00" y="0.00" font-size="8.50" font-weight="bold" text-anchor="start" fill="#111" stroke="#111" stroke-width="0.15" transform="translate(24.50 95.00) rotate(-90)">A = 1/4 R<tspan font-size="6.4" font-weight="normal" fill="#333" dy="1.0" dx="0.5">o</tspan></text><text x="0.00" y="0.00" font-size="8.70" font-weight="bold" text-anchor="start" fill="#111" stroke="#111" stroke-width="0.15" transform="translate(21.50 207.30) rotate(-90)">N = 4</text><text x="0.00" y="0.00" font-size="8.50" font-weight="bold" text-anchor="start" fill="#111" stroke="#111" stroke-width="0.15" transform="translate(20.80 382.60) rotate(-90)">A = 1/4 R<tspan font-size="6.4" font-weight="normal" fill="#333" dy="1.0" dx="0.5">o</tspan></text><text x="0.00" y="0.00" font-size="8.70" font-weight="bold" text-anchor="start" fill="#111" stroke="#111" stroke-width="0.15" transform="translate(21.70 485.20) rotate(-90)">N = 4</text><text x="101.70" y="266.80" font-size="8.70" font-weight="normal" text-anchor="middle" fill="#262626" stroke="#262626" stroke-width="0.15">Time (ms)</text><text x="227.40" y="266.80" font-size="8.70" font-weight="normal" text-anchor="middle" fill="#262626" stroke="#262626" stroke-width="0.15">Time (ms)</text><text x="358.30" y="266.80" font-size="8.70" font-weight="normal" text-anchor="middle" fill="#262626" stroke="#262626" stroke-width="0.15">Time (ms)</text><text x="101.70" y="543.90" font-size="8.70" font-weight="normal" text-anchor="middle" fill="#262626" stroke="#262626" stroke-width="0.15">Time (ms)</text><text x="227.40" y="543.90" font-size="8.70" font-weight="normal" text-anchor="middle" fill="#262626" stroke="#262626" stroke-width="0.15">Time (ms)</text><text x="358.30" y="543.90" font-size="8.70" font-weight="normal" text-anchor="middle" fill="#262626" stroke="#262626" stroke-width="0.15">Time (ms)</text><line x1="363.50" y1="95.40" x2="384.80" y2="95.40" stroke="#505050" stroke-width="1.0"/><text x="389.50" y="98.00" font-size="7.15" font-weight="normal" text-anchor="start" fill="#262626" stroke="#262626" stroke-width="0.15">Flat ID</text><line x1="363.50" y1="103.00" x2="384.80" y2="103.00" stroke="#3ba3d3" stroke-width="1.0"/><text x="389.50" y="105.60" font-size="7.15" font-weight="normal" text-anchor="start" fill="#262626" stroke="#262626" stroke-width="0.15">N = 2</text><line x1="363.50" y1="110.70" x2="384.80" y2="110.70" stroke="#b676cc" stroke-width="1.0"/><text x="389.50" y="113.30" font-size="7.15" font-weight="normal" text-anchor="start" fill="#262626" stroke="#262626" stroke-width="0.15">N = 4</text><line x1="363.50" y1="118.40" x2="384.80" y2="118.40" stroke="#f2a25c" stroke-width="1.0"/><text x="389.50" y="121.00" font-size="7.15" font-weight="normal" text-anchor="start" fill="#262626" stroke="#262626" stroke-width="0.15">N = 8</text><line x1="351.60" y1="200.30" x2="372.30" y2="200.30" stroke="#707070" stroke-width="1.0"/><text x="374.60" y="202.90" font-size="7.15" font-weight="normal" text-anchor="start" fill="#262626" stroke="#262626" stroke-width="0.15">Flat ID</text><line x1="351.60" y1="208.30" x2="372.30" y2="208.30" stroke="#86cc74" stroke-width="1.0"/><text x="374.60" y="210.90" font-size="7.15" font-weight="normal" text-anchor="start" fill="#262626" stroke="#262626" stroke-width="0.15">A = 1/16 R<tspan font-size="6.4" dx="0.8" dy="1.6">o</tspan></text><line x1="351.60" y1="216.30" x2="372.30" y2="216.30" stroke="#3ba3d3" stroke-width="1.0"/><text x="374.60" y="218.90" font-size="7.15" font-weight="normal" text-anchor="start" fill="#262626" stroke="#262626" stroke-width="0.15">A = 1/8 R<tspan font-size="6.4" dx="0.8" dy="1.6">o</tspan></text><line x1="351.60" y1="224.30" x2="372.30" y2="224.30" stroke="#b676cc" stroke-width="1.0"/><text x="374.60" y="226.90" font-size="7.15" font-weight="normal" text-anchor="start" fill="#262626" stroke="#262626" stroke-width="0.15">A = 1/4 R<tspan font-size="6.4" dx="0.8" dy="1.6">o</tspan></text><line x1="351.60" y1="232.10" x2="372.30" y2="232.10" stroke="#f2a25c" stroke-width="1.0"/><text x="374.60" y="234.70" font-size="7.15" font-weight="normal" text-anchor="start" fill="#262626" stroke="#262626" stroke-width="0.15">A = 1/2 R<tspan font-size="6.4" dx="0.8" dy="1.6">o</tspan></text><line x1="362.80" y1="379.60" x2="384.10" y2="379.60" stroke="#505050" stroke-width="1.0"/><text x="388.90" y="382.20" font-size="7.15" font-weight="normal" text-anchor="start" fill="#262626" stroke="#262626" stroke-width="0.15">Flat ID</text><line x1="362.80" y1="387.30" x2="384.10" y2="387.30" stroke="#3ba3d3" stroke-width="1.0"/><text x="388.90" y="389.90" font-size="7.15" font-weight="normal" text-anchor="start" fill="#262626" stroke="#262626" stroke-width="0.15">N = 2</text><line x1="362.80" y1="395.10" x2="384.10" y2="395.10" stroke="#b676cc" stroke-width="1.0"/><text x="388.90" y="397.70" font-size="7.15" font-weight="normal" text-anchor="start" fill="#262626" stroke="#262626" stroke-width="0.15">N = 4</text><line x1="362.80" y1="402.70" x2="384.10" y2="402.70" stroke="#f2a25c" stroke-width="1.0"/><text x="388.90" y="405.30" font-size="7.15" font-weight="normal" text-anchor="start" fill="#262626" stroke="#262626" stroke-width="0.15">N = 8</text><line x1="352.40" y1="477.60" x2="373.00" y2="477.60" stroke="#707070" stroke-width="1.0"/><text x="375.40" y="480.20" font-size="7.15" font-weight="normal" text-anchor="start" fill="#262626" stroke="#262626" stroke-width="0.15">Flat ID</text><line x1="352.40" y1="485.40" x2="373.00" y2="485.40" stroke="#86cc74" stroke-width="1.0"/><text x="375.40" y="488.00" font-size="7.15" font-weight="normal" text-anchor="start" fill="#262626" stroke="#262626" stroke-width="0.15">A = 1/16 R<tspan font-size="6.4" dx="0.8" dy="1.6">o</tspan></text><line x1="352.40" y1="493.30" x2="373.00" y2="493.30" stroke="#3ba3d3" stroke-width="1.0"/><text x="375.40" y="495.90" font-size="7.15" font-weight="normal" text-anchor="start" fill="#262626" stroke="#262626" stroke-width="0.15">A = 1/8 R<tspan font-size="6.4" dx="0.8" dy="1.6">o</tspan></text><line x1="352.40" y1="501.20" x2="373.00" y2="501.20" stroke="#b676cc" stroke-width="1.0"/><text x="375.40" y="503.80" font-size="7.15" font-weight="normal" text-anchor="start" fill="#262626" stroke="#262626" stroke-width="0.15">A = 1/4 R<tspan font-size="6.4" dx="0.8" dy="1.6">o</tspan></text><line x1="352.40" y1="509.10" x2="373.00" y2="509.10" stroke="#f2a25c" stroke-width="1.0"/><text x="375.40" y="511.70" font-size="7.15" font-weight="normal" text-anchor="start" fill="#262626" stroke="#262626" stroke-width="0.15">A = 1/2 R<tspan font-size="6.4" dx="0.8" dy="1.6">o</tspan></text></svg></body></html>
